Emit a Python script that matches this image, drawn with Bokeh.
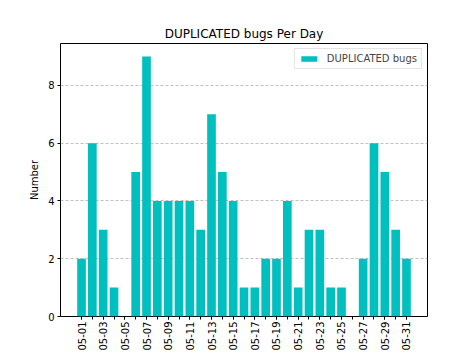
from bokeh.plotting import figure
from bokeh.models import Range1d, FixedTicker, ColumnDataSource, Legend, LegendItem
from bokeh.embed import file_html
from bokeh.resources import INLINE
import math

days = [1, 2, 3, 4, 5, 6, 7, 8, 9, 10, 11, 12, 13, 14, 15, 16,
        17, 18, 19, 20, 21, 22, 23, 24, 25, 26, 27, 28, 29, 30, 31]
day_labels = ["05-01", "05-02", "05-03", "05-04", "05-05", "05-06", "05-07", "05-08",
              "05-09", "05-10", "05-11", "05-12", "05-13", "05-14", "05-15", "05-16",
              "05-17", "05-18", "05-19", "05-20", "05-21", "05-22", "05-23", "05-24",
              "05-25", "05-26", "05-27", "05-28", "05-29", "05-30", "05-31"]
duplicated = [2, 6, 3, 1, 0, 5, 9, 4, 4, 4, 4, 3, 7, 5, 4, 1,
              1, 2, 2, 4, 1, 3, 3, 1, 1, 0, 2, 6, 5, 3, 2]
y_ticks = [0, 2, 4, 6, 8]
title_text = "DUPLICATED bugs Per Day"
series_name = "DUPLICATED bugs"
y_label = "Number"

FONT = "DejaVu Sans"
COLOR = "#00bfbf"

p = figure(frame_width=367, frame_height=273, output_backend="svg", toolbar_location=None,
           x_range=Range1d(-0.94, 32.94), y_range=Range1d(0, 9.45),
           min_border_left=60, min_border_right=47, min_border_top=43, min_border_bottom=0)

src = ColumnDataSource(dict(x=days, top=duplicated))
r = p.vbar(x="x", top="top", width=0.8, bottom=0, source=src,
           fill_color=COLOR, line_color=COLOR, line_width=0)

p.title.text = title_text
p.title.align = "center"
p.title.text_font = FONT
p.title.text_font_size = "12px"
p.title.text_font_style = "normal"
p.title.text_color = "black"
p.title.standoff = 5

p.outline_line_color = "black"
p.outline_line_width = 1
p.background_fill_color = "white"
p.border_fill_color = "white"

p.xgrid.visible = False
p.ygrid.grid_line_color = "#b0b0b0"
p.ygrid.grid_line_dash = "3 2"
p.ygrid.grid_line_width = 0.8

odd_days = days[0::2]
p.xaxis.ticker = FixedTicker(ticks=odd_days, minor_ticks=days)
p.xaxis.major_label_overrides = {d: lab for d, lab in zip(days, day_labels)}
p.xaxis.major_label_orientation = math.pi / 2
p.xaxis.minor_tick_out = 3
p.xaxis.minor_tick_in = 0
p.xaxis.major_tick_out = 3
p.xaxis.major_tick_in = 0
p.xaxis.major_label_standoff = 2
p.xaxis.axis_label_standoff = 0

p.yaxis.ticker = FixedTicker(ticks=y_ticks)
p.yaxis.minor_tick_line_color = None
p.yaxis.major_tick_out = 3
p.yaxis.major_tick_in = 0
p.yaxis.major_label_standoff = 3
p.yaxis.axis_label = y_label
p.yaxis.axis_label_standoff = 5

for ax in (p.xaxis, p.yaxis):
    ax.major_label_text_font = FONT
    ax.major_label_text_font_size = "10px"
    ax.major_label_text_color = "black"
    ax.axis_label_text_font = FONT
    ax.axis_label_text_font_size = "10px"
    ax.axis_label_text_font_style = "normal"
    ax.axis_label_text_color = "black"
    ax.axis_line_color = None
    ax.major_tick_line_color = "black"
    ax.minor_tick_line_color = "black"

legend = Legend(items=[LegendItem(label=series_name, renderers=[r])],
                location="top_right")
legend.label_text_font = FONT
legend.label_text_font_size = "10px"
legend.glyph_width = 20
legend.glyph_height = 7
legend.label_standoff = 8
legend.padding = 4
legend.margin = 5
legend.spacing = 0
legend.label_height = 10
legend.border_line_color = "#cccccc"
legend.border_line_width = 1
legend.background_fill_alpha = 0.8
p.add_layout(legend)

open("out.html", "w").write(file_html(p, INLINE))
